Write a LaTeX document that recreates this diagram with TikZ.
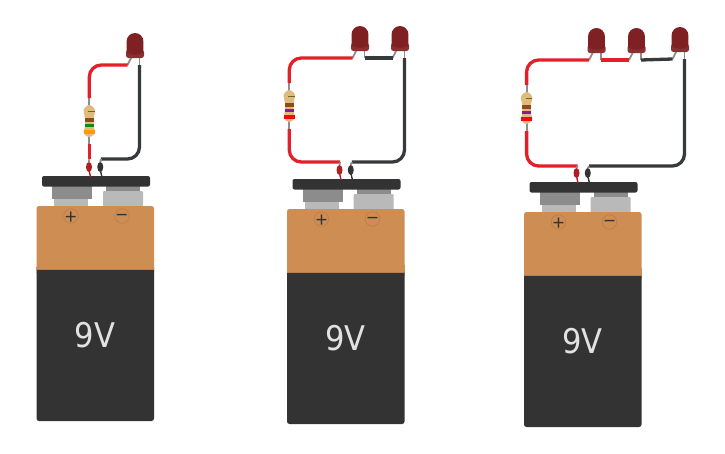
\documentclass[tikz,border=0pt]{standalone}
\usepackage{fontspec}
\setmainfont{Open Sans}
\newfontfamily\voltfont[FakeStretch=0.9]{DejaVu Sans}
\definecolor{orangeb}{HTML}{CE8D52}
\definecolor{orangee}{HTML}{B98050}
\definecolor{darkb}{HTML}{333333}
\definecolor{greyd}{HTML}{8C8C8C}
\definecolor{greyl}{HTML}{B9B9B9}
\definecolor{ledred}{HTML}{7F2023}
\definecolor{ledrim}{HTML}{8A3033}
\definecolor{wirered}{HTML}{E3202A}
\definecolor{wireblack}{HTML}{363A3D}
\definecolor{lead}{HTML}{8E8E8E}
\definecolor{connred}{HTML}{B01E22}
\definecolor{resbody}{HTML}{DFBB7E}
\definecolor{txtl}{HTML}{E2E2E2}
\tikzset{
  redwire/.style={draw=wirered,line width=3.3pt,rounded corners=12pt},
  blackwire/.style={draw=wireblack,line width=3.3pt,rounded corners=12pt},
  leadline/.style={draw=lead,line width=1.8pt},
  termcircle/.style={circle,draw=orangee,line width=.7pt,minimum size=14.5pt,inner sep=0pt},
  termsign/.style={inner sep=0pt,text=darkb,font=\fontsize{21}{21}\selectfont},
  volt/.style={text=txtl,font=\voltfont\fontsize{34}{34}\selectfont,inner sep=0pt},
}
% battery: name, dx, dy
\newcommand{\batterybox}[3]{%
  \begin{scope}[shift={(#2,#3)}]
    \fill[greyl] (54,198) rectangle (88,207);
    \fill[greyd] (52,185) rectangle (92,199);
    \fill[greyd] (106,185) rectangle (140,192);
    \fill[greyl,rounded corners=1pt] (103,191) rectangle (143,208);
    \fill[orangeb,rounded corners=2.5pt] (36.5,206) rectangle (154,275);
    \fill[darkb,rounded corners=2.5pt] (36.5,265) rectangle (154,421);
    \fill[orangeb] (36.5,262) rectangle (154,269.5);
    \draw[orangee,line width=.5pt] (36.5,269.5) -- (154,269.5);
    \fill[darkb,rounded corners=2pt] (42,176) rectangle (150,186.5);
    \node[termcircle] (#1-pluscirc) at (71,216) {};
    \node[termcircle] (#1-minuscirc) at (122,216) {};
    \node[termsign] (#1-plus) at (71,218.5) {+};
    \node[termsign] (#1-minus) at (122,218.5) {−};
    \node[volt] (#1-volt) at (95,335) {9V};
    \draw[connred,line width=1.4pt] (89,170) -- (90.5,177);
    \draw[darkb,line width=1.4pt] (100.3,170) -- (102,177);
    \fill[connred] (89,167) ellipse [x radius=3pt,y radius=5pt];
    \fill[darkb] (100.3,167) ellipse [x radius=3pt,y radius=5pt];
    \coordinate (#1-pos) at (89,162);
    \coordinate (#1-neg) at (100.3,162);
  \end{scope}}
% led: name, centre x, top y
\newcommand{\ledlamp}[3]{%
  \begin{scope}[shift={(#2,#3)}]
    \draw[leadline] (-3.5,24) -- (-7.5,32);
    \draw[leadline] (4.5,24) -- (4.5,32);
    \fill[ledrim,rounded corners=2.5pt] (-9,17) rectangle (9,25);
    \fill[ledred] (-8.4,19.5) -- (-8.4,8.4) arc[start angle=180,end angle=0,radius=8.4pt] -- (8.4,19.5)
      .. controls (4,22.5) and (-4,22.5) .. (-8.4,19.5) -- cycle;
    \coordinate (#1-a) at (-7.5,32);
    \coordinate (#1-c) at (4.5,32);
  \end{scope}}
% resistor: name, x, top y, band colours
\newcommand{\resistorpart}[6]{%
  \begin{scope}[shift={(#2,#3)}]
    \draw[leadline] (0,-7) -- (0,1);
    \draw[leadline] (0,31) -- (0,39);
    \fill[resbody] (0,0) .. controls (2,0) and (5.8,3) .. (5.8,6)
      .. controls (5.8,9) and (4.3,10) .. (4.3,13) -- (4.3,21)
      .. controls (4.3,24) and (5.8,25) .. (5.8,27)
      .. controls (5.8,29) and (2,32) .. (0,32)
      .. controls (-2,32) and (-5.8,29) .. (-5.8,27)
      .. controls (-5.8,25) and (-4.3,24) .. (-4.3,21) -- (-4.3,13)
      .. controls (-4.3,10) and (-5.8,9) .. (-5.8,6)
      .. controls (-5.8,3) and (-2,0) .. (0,0) -- cycle;
    \fill[#4] (-4.3,12.5) rectangle (4.3,16.5);
    \fill[#5] (-4.3,19) rectangle (4.3,22.3);
    \fill[#6] (-5.8,24.5) rectangle (5.8,29);
    \fill[olive!70!black] (-1,5.6) rectangle (5.2,6.6);
    \coordinate (#1-t) at (0,-7);
    \coordinate (#1-b) at (0,39);
  \end{scope}}
\definecolor{bandbrown}{HTML}{8F4A1C}
\definecolor{bandgreen}{HTML}{0F8A1E}
\definecolor{bandorange}{HTML}{FF9A00}
\definecolor{bandpurple}{HTML}{8E1A90}
\definecolor{bandred}{HTML}{F00D0D}
\begin{document}
\begin{tikzpicture}[x=1pt,y=-1pt]
\useasboundingbox (0,0) rectangle (725,453);
\fill[white] (0,0) rectangle (725,453);
\batterybox{ba}{0}{0}
\batterybox{bb}{250.5}{3}
\batterybox{bc}{487.5}{6}
% circuit 1
\ledlamp{la}{135}{33}
\resistorpart{ra}{89.3}{105}{bandbrown}{bandgreen}{bandorange}
\coordinate (wz) at (89.3,159);
\draw[redwire,sharp corners] (ra-b) -- (wz);
\draw[leadline] (wz) -- (ba-pos);
\draw[redwire] (ra-t) |- (la-a);
\coordinate (wa) at (101,159);
\draw[blackwire] (la-c) |- (wa);
\draw[leadline] (wa) -- (ba-neg);
% circuit 2
\ledlamp{lb}{360}{26}
\ledlamp{lc}{400}{26}
\resistorpart{rb}{289.3}{90}{bandbrown}{bandpurple}{bandred}
\coordinate (wb) at (340,162);
\coordinate (wc) at (351.8,162);
\draw[redwire] (rb-t) |- (lb-a);
\draw[redwire] (rb-b) |- (wb);
\draw[blackwire] (lb-c) -- (lc-a);
\draw[blackwire] (lc-c) |- (wc);
\draw[leadline] (wb) -- (bb-pos);
\draw[leadline] (wc) -- (bb-neg);
% circuit 3
\ledlamp{ld}{596.5}{28}
\ledlamp{le}{636.5}{28}
\ledlamp{lf}{680}{27}
\resistorpart{rc}{526.6}{92}{bandbrown}{bandpurple}{bandred}
\coordinate (wd) at (577.5,166);
\coordinate (we) at (589,166);
\draw[redwire] (rc-t) |- (ld-a);
\draw[redwire] (rc-b) |- (wd);
\draw[redwire] (ld-c) -- (le-a);
\draw[blackwire] (le-c) -- (lf-a);
\draw[blackwire] (lf-c) |- (we);
\draw[leadline] (wd) -- (bc-pos);
\draw[leadline] (we) -- (bc-neg);
\end{tikzpicture}
\end{document}
